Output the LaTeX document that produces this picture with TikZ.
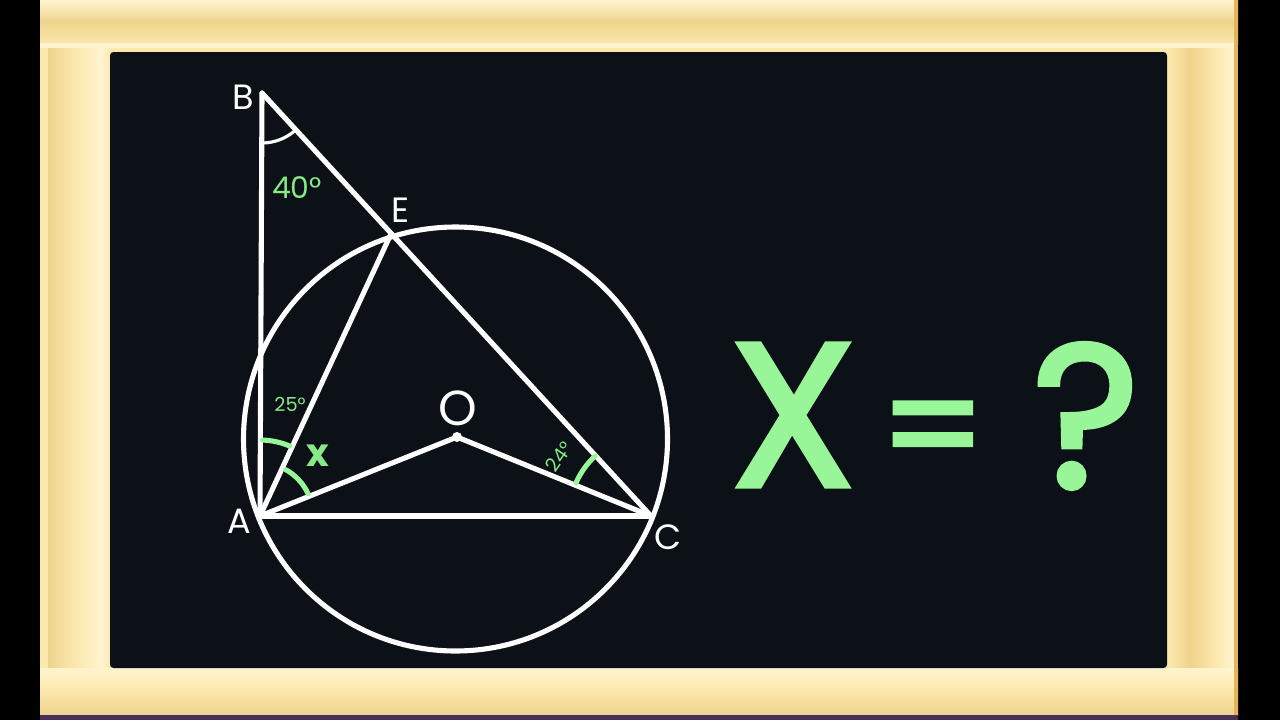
\documentclass[tikz,border=0pt]{standalone}
\usepackage{fontspec}
\setmainfont{Poppins}
\newfontfamily\bigfont{Poppins}[FakeBold=2.5]
\definecolor{board}{HTML}{0B1116}
\definecolor{frameA}{HTML}{FBE8AD}
\definecolor{frameB}{HTML}{EFD38C}
\definecolor{frameC}{HTML}{FFF4D0}
\definecolor{frameEdge}{HTML}{E6B45A}
\definecolor{stripe}{HTML}{4A2E5A}
\definecolor{grn}{HTML}{98F598}
\definecolor{lbl}{HTML}{86E886}
\tikzset{
  geo/.style={white, line width=2.9pt, line cap=round, line join=round},
  thinarc/.style={white, line width=1.8pt, line cap=round},
  garc/.style={grn, line width=2.9pt, line cap=round},
  wlabel/.style={white, inner sep=0pt, font=\fontsize{20}{20}\selectfont},
  glabel/.style={lbl, inner sep=0pt},
  big/.style={grn, inner sep=0pt, font=\bigfont\fontsize{116}{116}\selectfont}
}
\begin{document}
\begin{tikzpicture}[x=0.02cm,y=-0.02cm]
\useasboundingbox (0,0) rectangle (1280,720);
% background and frame
\fill[black] (0,0) rectangle (1280,720);
\fill[frameA] (40,0) rectangle (1238,715);
\shade[top color=frameC, bottom color=frameB] (40,0) rectangle (1238,22);
\shade[top color=frameB, bottom color=frameA] (40,22) rectangle (1238,44);
\fill[frameC] (40,43) rectangle (1238,48);
% pillars
\shade[left color=frameB, right color=frameA] (48,48) rectangle (75,668);
\shade[left color=frameA, right color=frameC] (75,48) rectangle (102,668);
\shade[left color=frameC, right color=frameA] (102,48) rectangle (110,668);
\shade[left color=frameA, right color=frameB] (1168,48) rectangle (1190,668);
\shade[left color=frameB, right color=frameA] (1190,48) rectangle (1214,668);
\shade[left color=frameA, right color=frameC] (1214,48) rectangle (1234,668);
% bottom bar
\shade[top color=frameC, bottom color=frameA] (40,668) rectangle (1238,690);
\shade[top color=frameA, bottom color=frameB] (40,690) rectangle (1238,715);
\fill[frameEdge] (1234,0) rectangle (1238,715);
\fill[stripe] (40,715) rectangle (1238,720);
% board
\fill[board, rounded corners=2pt] (110,52) rectangle (1167,668);

% points
\coordinate (A) at (260,516);
\coordinate (B) at (262,93);
\coordinate (C) at (651,516);
\coordinate (E) at (390,236);
\coordinate (O) at (457,437);
\coordinate (Oc) at (455.5,439);

% figure
\draw[geo] (Oc) circle[radius=212];
\draw[geo] (B) -- (A);
\draw[geo] (B) -- (C);
\draw[geo] (A) -- (C);
\draw[geo] (A) -- (E);
\draw[geo] (A) -- (O);
\draw[geo] (O) -- (C);
\fill[white] (O) circle[radius=5];

% angle marks
\draw[thinarc] (B) ++(90:50) arc (90:47.5:50);
\draw[garc] (A) ++(-88:76) arc (-88:-67:76);
\draw[garc] (A) ++(-61:53) arc (-61:-25:53);
\draw[garc] (C) ++(204:82) arc (204:227:82);

% labels
\node[wlabel] (lB) at (243,97) {B};
\node[wlabel] (lE) at (401,210) {E};
\node[wlabel] (lA) at (239,521) {A};
\node[wlabel] (lC) at (668,537) {C};
\node[wlabel, font=\fontsize{28}{28}\selectfont] (lO) at (458,408) {O};
\node[glabel, font=\fontsize{17}{17}\selectfont] (l40) at (297,188) {40°};
\node[glabel, font=\fontsize{11}{11}\selectfont] (l25) at (290,404) {25°};
\node[glabel, font=\bfseries\fontsize{22}{22}\selectfont] (lx) at (318,456) {x};
\node[glabel, font=\fontsize{11}{11}\selectfont, rotate=55] (l24) at (559,457) {24°};

% X = ?
\node[big] (bigX) at (793,415) {X};
\node[big, font=\bigfont\fontsize{84}{84}\selectfont] (bigEq) at (933,440) {=};
\node[big] (bigQ) at (1086,416) {?};
\end{tikzpicture}
\end{document}
